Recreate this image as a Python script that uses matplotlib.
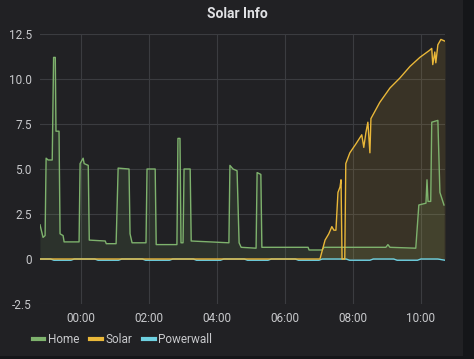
import matplotlib
matplotlib.use("Agg")
import matplotlib.pyplot as plt
from matplotlib.patches import Rectangle

plt.rcParams["font.family"] = ["Roboto", "DejaVu Sans"]

# hours relative to 00:00
home_t = [-1.21, -1.12, -1.06, -1.03, -0.97, -0.85, -0.81, -0.76, -0.74, -0.65,
          -0.62, -0.53, -0.5, -0.06, -0.03, 0.06, 0.09, 0.21, 0.24, 0.71,
          0.74, 1.03, 1.09, 1.41, 1.44, 1.5, 1.91, 1.94, 2.18, 2.21,
          2.82, 2.85, 2.91, 2.94, 3.0, 3.03, 3.21, 3.24, 4.35, 4.38,
          4.47, 4.59, 4.65, 4.71, 5.15, 5.18, 5.29, 5.32, 6.68, 6.71,
          7.09, 7.15, 8.97, 9.03, 9.09, 9.85, 9.94, 10.15, 10.18, 10.21,
          10.29, 10.32, 10.5, 10.56, 10.68]
home_kw = [1.9, 1.2, 1.3, 5.6, 5.5, 5.5, 11.2, 11.2, 7.1, 7.1,
           1.4, 1.3, 0.95, 0.95, 5.3, 5.6, 5.3, 5.2, 1.05, 1.0,
           0.85, 0.85, 5.05, 5.0, 1.4, 0.9, 0.9, 5.0, 5.0, 0.8,
           0.8, 6.7, 6.7, 0.9, 0.9, 5.0, 5.0, 1.0, 0.9, 5.2,
           5.0, 4.9, 0.9, 0.65, 0.6, 4.8, 4.7, 0.65, 0.65, 0.5,
           0.5, 0.65, 0.65, 0.8, 0.65, 0.6, 3.0, 3.1, 4.4, 3.2,
           3.2, 7.6, 7.7, 3.7, 3.0]

solar_t = [-1.21, 7.03, 7.18, 7.29, 7.38, 7.44, 7.5, 7.56, 7.62, 7.65,
           7.68, 7.76, 7.79, 7.91, 8.09, 8.26, 8.32, 8.38, 8.44, 8.5,
           8.53, 8.79, 9.09, 9.38, 9.68, 9.97, 10.26, 10.32, 10.35, 10.41,
           10.44, 10.5, 10.59, 10.71]
solar_kw = [0.0, 0.0, 1.05, 1.4, 1.8, 1.6, 1.6, 3.7, 4.0, 4.4,
            0.0, 0.0, 5.3, 5.9, 6.4, 6.9, 6.2, 7.0, 7.6, 5.9,
            7.8, 8.7, 9.5, 10.05, 10.7, 11.2, 11.6, 11.7, 10.8, 11.5,
            10.9, 11.9, 12.2, 12.1]

pw_t = [-1.21, -0.9, -0.8, -0.3, -0.2, 0.4, 0.5, 1.1, 1.2, 1.8,
        1.9, 2.6, 2.7, 3.3, 3.4, 4.1, 4.2, 4.8, 4.9, 5.5,
        5.6, 6.3, 6.4, 7.0, 7.1, 7.8, 7.9, 8.5, 8.6, 9.2,
        9.3, 9.9, 10.0, 10.5, 10.71]
pw_kw = [0.0, 0.0, -0.07, -0.07, 0.0, 0.0, -0.07, -0.07, 0.0, 0.0,
         -0.07, -0.07, 0.0, 0.0, -0.07, -0.07, 0.0, 0.0, -0.07, -0.07,
         0.0, 0.0, -0.07, -0.07, 0.0, 0.0, -0.07, -0.07, 0.0, 0.0,
         -0.07, -0.07, 0.0, 0.0, -0.07]

y_ticks = [-2.5, 0, 2.5, 5.0, 7.5, 10.0, 12.5]
y_labels = ["-2.5", "0", "2.5", "5.0", "7.5", "10.0", "12.5"]
x_ticks = [0, 2, 4, 6, 8, 10]
x_labels = ["00:00", "02:00", "04:00", "06:00", "08:00", "10:00"]

W, H = 474, 359
fig = plt.figure(figsize=(W / 100, H / 100), dpi=100)
fig.patch.set_facecolor("#151619")
# the panel itself, a bit lighter than the page behind it
fig.patches.append(Rectangle((0, 3 / H), 463 / W, 1 - 3 / H, transform=fig.transFigure,
                             facecolor="#212124", edgecolor="none", zorder=-10))

ax = fig.add_axes([40 / W, (H - 304) / H, 405 / W, 270 / H])
ax.set_facecolor("none")

green, yellow, cyan = "#7eb26d", "#eab839", "#6ed0e0"
ax.fill_between(home_t, home_kw, 0, color=green, alpha=0.12, linewidth=0)
ax.fill_between(solar_t, solar_kw, 0, color=yellow, alpha=0.12, linewidth=0)
ax.plot(home_t, home_kw, color=green, lw=1, label="Home", zorder=3)
ax.plot(solar_t, solar_kw, color=yellow, lw=1, label="Solar", zorder=3)
ax.plot(pw_t, pw_kw, color=cyan, lw=1, label="Powerwall", zorder=2)

ax.set_xlim(-1.21, 10.71)
ax.set_ylim(-2.5, 12.5)
ax.set_yticks(y_ticks, y_labels)
ax.set_xticks(x_ticks, x_labels)
ax.grid(True, color="#3b3c40", lw=0.8)
ax.set_axisbelow(True)
for s in ax.spines.values():
    s.set_visible(False)
ax.tick_params(length=0, colors="#c8c9cc", labelsize=8.5, pad=6)

fig.text(237 / W, 1 - 14 / H, "Solar Info", ha="center", va="center",
         color="#e0e1e4", fontsize=10, fontweight="bold")

leg = fig.legend(loc="lower left", bbox_to_anchor=(22 / W, 2 / H), ncol=3, frameon=False,
                 fontsize=8.5, handlelength=1.0, handletextpad=0.3, columnspacing=0.9,
                 labelcolor="#c8c9cc")
for line in leg.get_lines():
    line.set_linewidth(3)

fig.savefig("out.png", dpi=100, facecolor=fig.get_facecolor())
